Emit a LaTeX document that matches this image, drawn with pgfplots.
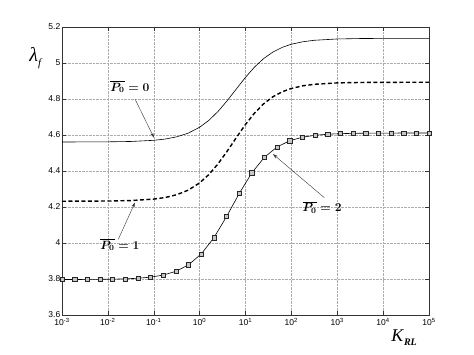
\documentclass[border=0pt]{standalone}
\usepackage{fontspec}
\setmainfont{Liberation Sans}
\newfontfamily\tnr{Liberation Serif}
\usepackage{pgfplots}
\pgfplotsset{compat=1.18}
\usetikzlibrary{arrows.meta}

\pgfplotstableread{
x y
0.001 4.5611
0.01 4.5620
0.031623 4.5640
0.1 4.5704
0.177828 4.5775
0.316228 4.5897
0.562341 4.6102
1 4.6430
1.584893 4.6810
2.511886 4.7305
3.981072 4.7901
6.309573 4.8556
10 4.9204
15.848932 4.9783
25.118864 5.0255
39.810717 5.0613
63.095734 5.0868
100 5.1042
177.8279 5.1181
316.2278 5.1262
1000 5.1335
3162.278 5.1359
10000 5.1367
100000 5.1370
}\topcurve

\pgfplotstableread{
x y
0.001 4.2321
0.01 4.2332
0.031623 4.2358
0.1 4.2438
0.177828 4.2527
0.316228 4.2680
0.562341 4.2934
1 4.3338
1.584893 4.3800
2.511886 4.4393
3.981072 4.5097
6.309573 4.5853
10 4.6586
15.848932 4.7228
25.118864 4.7743
39.810717 4.8129
63.095734 4.8400
100 4.8586
177.8279 4.8732
316.2278 4.8817
1000 4.8894
3162.278 4.8918
10000 4.8926
100000 4.8930
}\midcurve

\pgfplotstableread{
x y
0.001 3.7972
0.001888 3.7973
0.003562 3.7976
0.006723 3.7981
0.01269 3.7990
0.02395 3.8008
0.04520 3.8041
0.08532 3.8103
0.1610 3.8218
0.3039 3.8425
0.5736 3.8789
1.0826 3.9389
2.0434 4.0289
3.857 4.1464
7.279 4.2745
13.74 4.3898
25.93 4.4766
48.94 4.5338
92.37 4.5682
174.3 4.5877
329.1 4.5985
621.1 4.6043
1172 4.6075
2212 4.6091
4175 4.6100
7880 4.6105
14874 4.6107
28072 4.6109
52983 4.6110
100000 4.6110
}\lowcurve

\begin{document}
\begin{tikzpicture}
\path[use as bounding box] (-62pt,-40pt) rectangle (412pt,315pt);
\begin{axis}[
  at={(0pt,0pt)}, anchor=south west,
  scale only axis, width=367pt, height=288pt,
  xmode=log, log basis x=10,
  xmin=1e-3, xmax=1e5, ymin=3.6, ymax=5.2,
  xtick={0.001,0.01,0.1,1,10,100,1000,10000,100000},
  xticklabels={10\textsuperscript{-3},10\textsuperscript{-2},10\textsuperscript{-1},10\textsuperscript{0},10\textsuperscript{1},10\textsuperscript{2},10\textsuperscript{3},10\textsuperscript{4},10\textsuperscript{5}},
  ytick={3.6,3.8,4,4.2,4.4,4.6,4.8,5,5.2},
  yticklabels={3.6,3.8,4,4.2,4.4,4.6,4.8,5,5.2},
  tick align=inside, tick pos=both,
  xticklabel pos=lower, yticklabel pos=left,
  xmajorgrids, xminorgrids, ymajorgrids,
  major grid style={densely dotted, gray!65},
  minor grid style={densely dotted, gray!45},
  major tick length=4pt, minor tick length=2pt,
  tick style={black!80, line width=0.4pt},
  axis line style={black!80, line width=0.5pt},
  ticklabel style={font=\fontsize{8.5}{9}\selectfont},
  yticklabel style={inner sep=1.5pt},
  /pgf/number format/assume math mode=true,
  clip=false,
]
\addplot[black, line width=0.6pt] table {\topcurve};
\addplot[black, line width=1.4pt, dash pattern=on 4pt off 2.5pt] table {\midcurve};
\addplot[black, line width=0.6pt, mark=square*, mark size=2.1pt,
  mark options={solid, fill=gray!45, draw=black!85, line width=0.5pt}] table {\lowcurve};

\node[font=\fontsize{12}{14}\selectfont\boldmath] at (axis cs:0.0303,4.867) {$\overline{P_0}=0$};
\draw[black!80, line width=0.4pt, -{Stealth[length=5pt,width=3pt]}] (axis cs:0.039,4.80) -- (axis cs:0.101,4.585);

\node[font=\fontsize{12}{14}\selectfont\boldmath] at (axis cs:0.01836,3.989) {$\overline{P_0}=1$};
\draw[black!80, line width=0.4pt, -{Stealth[length=5pt,width=3pt]}] (axis cs:0.01687,4.020) -- (axis cs:0.039,4.225);

\node[font=\fontsize{12}{14}\selectfont\boldmath] at (axis cs:465.6,4.197) {$\overline{P_0}=2$};
\draw[black!80, line width=0.4pt, -{Stealth[length=5pt,width=3pt]}] (axis cs:522,4.252) -- (axis cs:39.7,4.494);

\node at (axis description cs:-0.071,0.892) {\tnr\fontsize{20}{22}\selectfont\textit{λ}\raisebox{-0.45ex}{\fontsize{11}{12}\selectfont\textit{f}}};
\node at (axis description cs:0.932,-0.080) {\tnr\fontsize{18}{20}\selectfont\textit{K}\raisebox{-0.5ex}{\fontsize{10}{12}\selectfont\textbf{\textit{RL}}}};
\end{axis}
\end{tikzpicture}
\end{document}
